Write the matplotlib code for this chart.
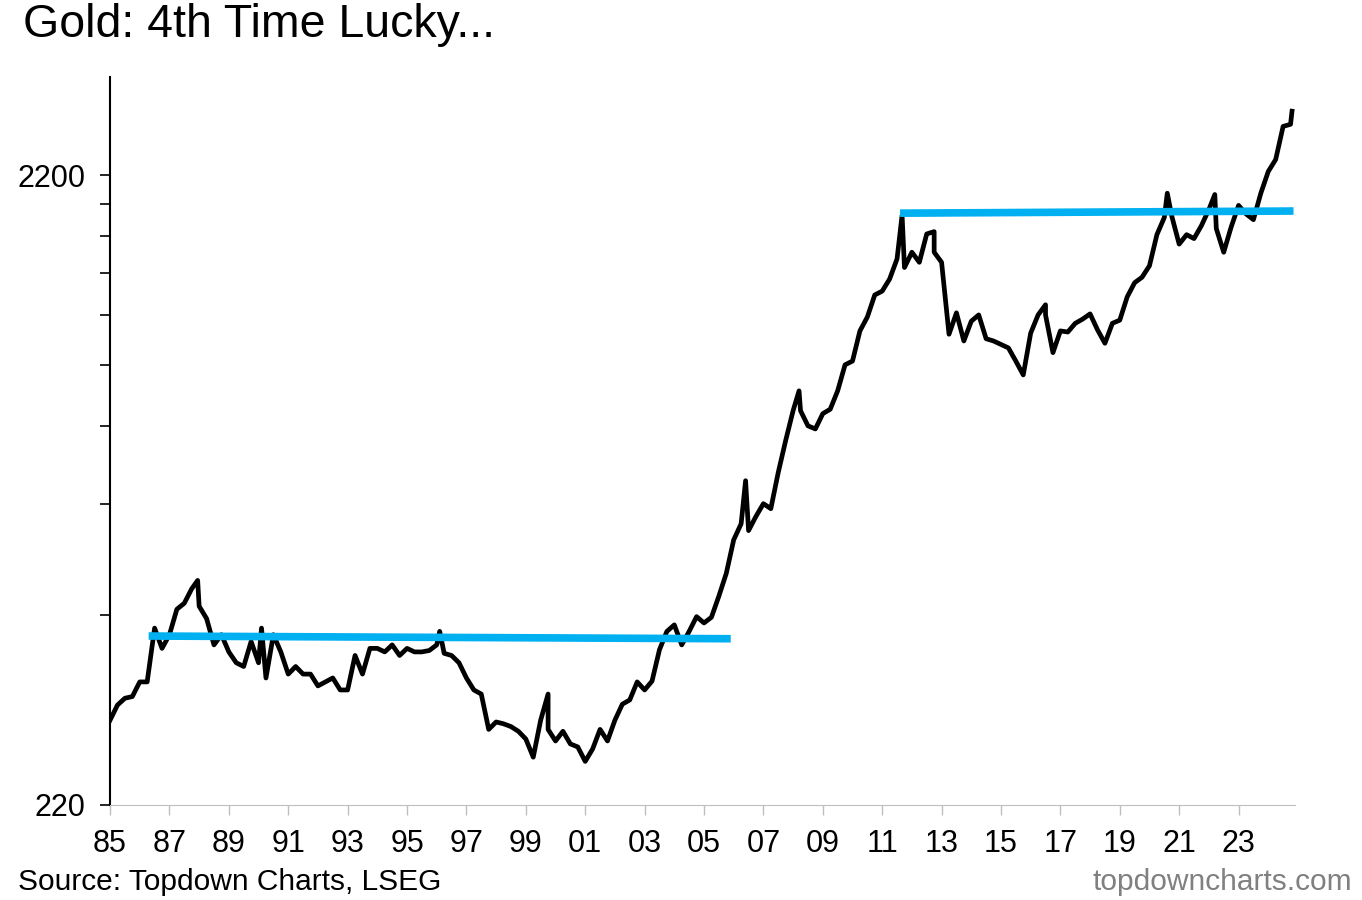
import numpy as np
import matplotlib
matplotlib.use('Agg')
from matplotlib import pyplot as plt, ticker

plt.rcParams['font.family'] = ['Liberation Sans', 'DejaVu Sans']

# Gold price (USD/oz), approximate quarterly readings 1985-2024
start_year = 1985.0
gold_q = [
    300, 317, 325, 327, 345, 345, 420, 390, 410, 450, 460, 485,
    455, 435, 395, 410, 385, 370, 365, 400, 370, 350, 410, 385,
    355, 365, 355, 355, 340, 345, 350, 335, 335, 380, 355, 390,
    390, 385, 395, 380, 390, 385, 385, 387, 395, 383, 380, 370,
    350, 335, 330, 290, 298, 296, 293, 288, 280, 262, 300, 290,
    278, 288, 275, 272, 258, 270, 290, 278, 300, 318, 323, 345,
    335, 346, 388, 415, 425, 395, 415, 438, 428, 437, 472, 513,
    580, 615, 600, 632, 662, 650, 742, 834, 930, 930, 880, 870,
    920, 935, 1000, 1100, 1115, 1245, 1310, 1420, 1440, 1505, 1620, 1570,
    1660, 1600, 1775, 1660, 1600, 1230, 1330, 1200, 1290, 1320, 1210, 1200,
    1185, 1170, 1115, 1060, 1235, 1320, 1320, 1150, 1245, 1240, 1280, 1300,
    1325, 1250, 1190, 1280, 1295, 1410, 1485, 1515, 1580, 1770, 1885, 1895,
    1710, 1770, 1745, 1830, 1940, 1810, 1660, 1820, 1970, 1910, 1870, 2060,
    2230, 2330, 2630, 2650,
]
# intra-quarter spikes
spike_dates = [1987.95, 1990.1, 1996.1, 1999.75, 2006.4, 2008.2, 2011.67, 2012.75, 2016.5, 2020.6, 2022.2, 2024.8]
spike_vals = [500, 420, 415, 330, 720, 1000, 1900, 1790, 1370, 2060, 2050, 2780]

# resistance lines
res_dates = [[1986.3, 2005.9], [2011.6, 2024.85]]
res_vals = [[408, 404], [1915, 1930]]

xlabels = ['85', '87', '89', '91', '93', '95', '97', '99', '01', '03', '05', '07', '09',
           '11', '13', '15', '17', '19', '21', '23']

dates = list(start_year + np.arange(len(gold_q)) / 4.0) + spike_dates
vals = list(gold_q) + spike_vals
order = np.argsort(dates)
dates = np.array(dates)[order]
vals = np.array(vals)[order]

fig = plt.figure(figsize=(13.62, 9), dpi=100)
ax = fig.add_axes([0.0808, 0.1056, 0.8700, 0.8088])
ax.plot(dates, vals, color='black', lw=3.4, solid_joinstyle='round')
for d, v in zip(res_dates, res_vals):
    ax.plot(d, v, color='#00B0F0', lw=5.5, solid_capstyle='butt')

ax.set_yscale('log')
ax.set_ylim(220, 3150)
ax.set_xlim(1985, 2024.9)
ax.yaxis.set_major_locator(ticker.FixedLocator([220, 2200]))
ax.yaxis.set_major_formatter(ticker.FixedFormatter(['220', '2200']))
ax.yaxis.set_minor_locator(ticker.FixedLocator([220 * k for k in range(2, 10)]))
ax.yaxis.set_minor_formatter(ticker.NullFormatter())
ax.tick_params(axis='y', which='both', direction='out', length=7, width=1.2, labelsize=22, pad=11)
ax.set_xticks(1985 + 2 * np.arange(len(xlabels)))
ax.set_xticklabels(xlabels)
ax.tick_params(axis='x', direction='out', length=7, width=1.0, color='#bfbfbf', labelsize=22, pad=10)
for s in ['top', 'right']:
    ax.spines[s].set_visible(False)
ax.spines['left'].set_linewidth(1.5)
ax.spines['bottom'].set_color('#bfbfbf')

fig.text(0.017, 0.972, 'Gold: 4th Time Lucky...', fontsize=33.5, va='center', ha='left')
fig.text(0.013, 0.02, 'Source: Topdown Charts, LSEG', fontsize=21.5, ha='left', va='center')
fig.text(0.993, 0.02, 'topdowncharts.com', fontsize=21.5, ha='right', va='center', color='#808080')

fig.savefig('out.png', dpi=100)
